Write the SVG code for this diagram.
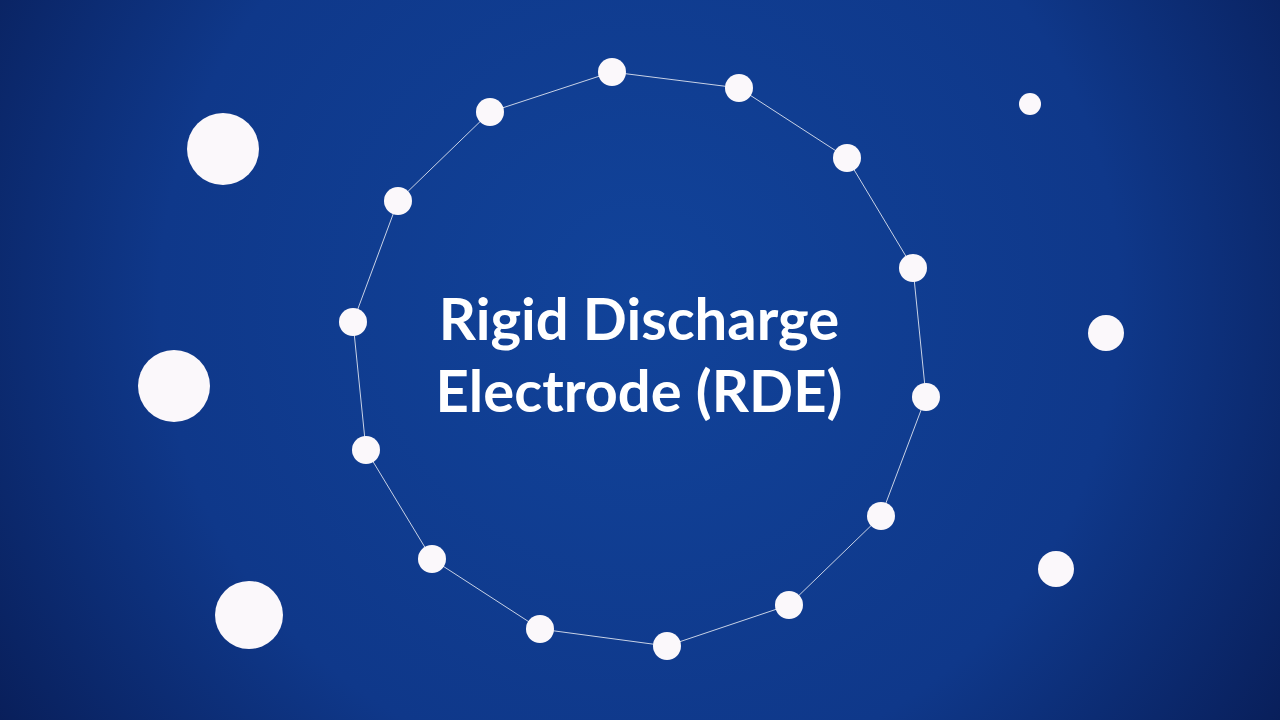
<svg xmlns="http://www.w3.org/2000/svg" width="1280" height="720" viewBox="0 0 1280 720">
<defs>
<radialGradient id="bg" cx="640" cy="300" r="800" gradientUnits="userSpaceOnUse">
<stop offset="0" stop-color="#11439a"/>
<stop offset="0.6" stop-color="#0f388a"/>
<stop offset="1" stop-color="#081c55"/>
</radialGradient>
<style>
.d{fill:#fbf8fb}
.t{font-family:Lato,"Liberation Sans",sans-serif;font-weight:bold;font-size:58px;fill:#ffffff;text-anchor:middle}
</style>
</defs>
<rect width="1280" height="720" fill="url(#bg)"/>
<g id="connectors">
<polygon points="612,72 739,88 847,158 913,268 926,397 881,516 789,605 667,646 540,629 432,559 366,450 353,322 398,201 490,112" fill="none" stroke="#c8d2e6" stroke-width="1"/>
</g>
<g id="ring">
<circle class="d" cx="612" cy="72" r="14"/>
<circle class="d" cx="739" cy="88" r="14"/>
<circle class="d" cx="847" cy="158" r="14"/>
<circle class="d" cx="913" cy="268" r="14"/>
<circle class="d" cx="926" cy="397" r="14"/>
<circle class="d" cx="881" cy="516" r="14"/>
<circle class="d" cx="789" cy="605" r="14"/>
<circle class="d" cx="667" cy="646" r="14"/>
<circle class="d" cx="540" cy="629" r="14"/>
<circle class="d" cx="432" cy="559" r="14"/>
<circle class="d" cx="366" cy="450" r="14"/>
<circle class="d" cx="353" cy="322" r="14"/>
<circle class="d" cx="398" cy="201" r="14"/>
<circle class="d" cx="490" cy="112" r="14"/>
</g>
<g id="outer">
<circle class="d" cx="223" cy="149" r="36"/>
<circle class="d" cx="174" cy="386" r="36"/>
<circle class="d" cx="249" cy="615" r="34"/>
<circle class="d" cx="1030" cy="104" r="11"/>
<circle class="d" cx="1106" cy="333" r="18"/>
<circle class="d" cx="1056" cy="569" r="18"/>
</g>
<g id="title">
<text class="t" x="639" y="340">Rigid Discharge</text>
<text class="t" x="639" y="412">Electrode (RDE)</text>
</g>
</svg>
